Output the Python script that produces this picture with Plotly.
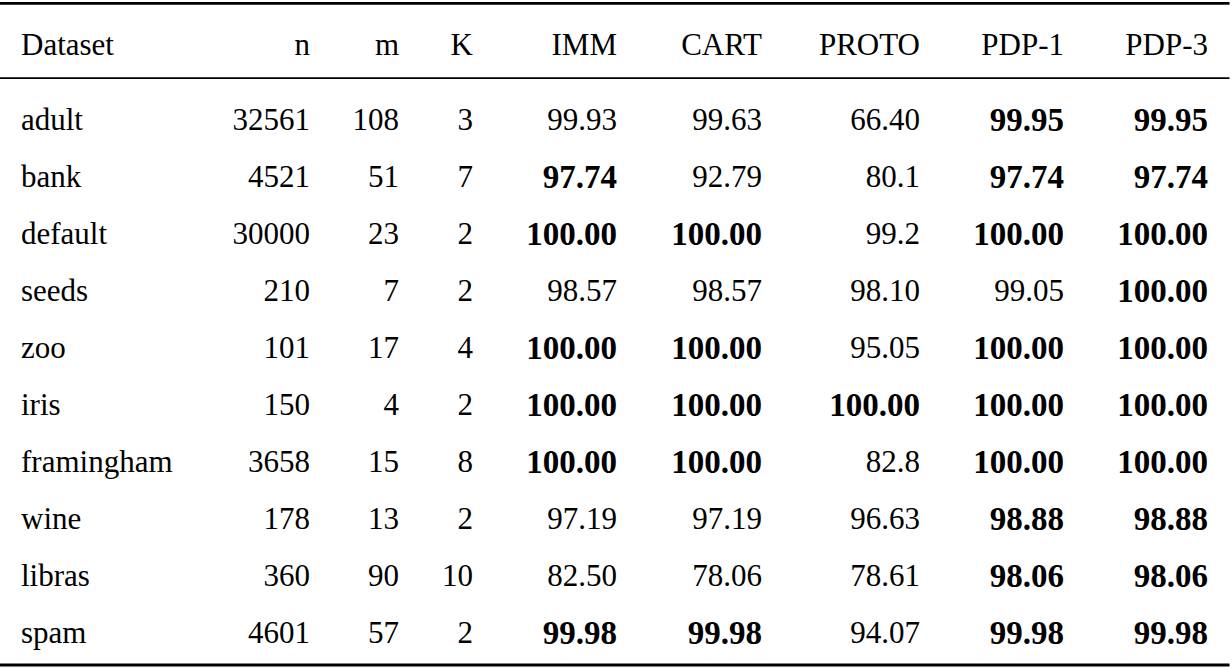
import plotly.graph_objects as go

# ---------------- data ----------------
datasets = ["adult", "bank", "default", "seeds", "zoo", "iris",
            "framingham", "wine", "libras", "spam"]
n_vals = ["32561", "4521", "30000", "210", "101", "150", "3658", "178", "360", "4601"]
m_vals = ["108", "51", "23", "7", "17", "4", "15", "13", "90", "57"]
k_vals = ["3", "7", "2", "2", "4", "2", "8", "2", "10", "2"]
imm = ["99.93", "97.74", "100.00", "98.57", "100.00", "100.00", "100.00", "97.19", "82.50", "99.98"]
cart = ["99.63", "92.79", "100.00", "98.57", "100.00", "100.00", "100.00", "97.19", "78.06", "99.98"]
proto = ["66.40", "80.1", "99.2", "98.10", "95.05", "100.00", "82.8", "96.63", "78.61", "94.07"]
pdp1 = ["99.95", "97.74", "100.00", "99.05", "100.00", "100.00", "100.00", "98.88", "98.06", "99.98"]
pdp3 = ["99.95", "97.74", "100.00", "100.00", "100.00", "100.00", "100.00", "98.88", "98.06", "99.98"]
headers = ["Dataset", "n", "m", "K", "IMM", "CART", "PROTO", "PDP-1", "PDP-3"]

# ---------------- layout constants ----------------
W, H = 1232, 669
FONT = "Liberation Serif"
FS = 31
FS_BOLD = 33
left_x = 21                      # left edge of Dataset column
right_x = [310, 399, 473, 617, 762, 920, 1064, 1208]  # right edges of other columns
header_y = 47
row0_y = 122.3
row_step = 57.0
rules = [(3.4, 2.8), (78.2, 1.7), (665, 2.8)]  # (y, width)

score_cols = [imm, cart, proto, pdp1, pdp3]
rows_y = [row0_y + i * row_step for i in range(len(datasets))]

fig = go.Figure()

def text_trace(xs, ys, texts, pos, sizes=FS):
    return go.Scatter(x=xs, y=ys, mode="text", text=texts, textposition=pos,
                      textfont=dict(family=FONT, size=sizes, color="black"),
                      hoverinfo="skip", showlegend=False, cliponaxis=False)

# header
fig.add_trace(text_trace([left_x], [header_y], [headers[0]], "middle right"))
fig.add_trace(text_trace(right_x, [header_y] * len(right_x), headers[1:], "middle left"))

# dataset names
fig.add_trace(text_trace([left_x] * len(datasets), rows_y, datasets, "middle right"))

# integer columns
for col, xr in zip([n_vals, m_vals, k_vals], right_x[:3]):
    fig.add_trace(text_trace([xr] * len(col), rows_y, col, "middle left"))

# score columns: best per row in bold
row_best = [max(float(c[i]) for c in score_cols) for i in range(len(datasets))]
for col, xr in zip(score_cols, right_x[3:]):
    is_best = [float(v) == row_best[i] for i, v in enumerate(col)]
    txt = [f"<b>{v}</b>" if b else v for v, b in zip(col, is_best)]
    sizes = [FS_BOLD if b else FS for b in is_best]
    fig.add_trace(text_trace([xr] * len(col), rows_y, txt, "middle left", sizes))

for y, lw in rules:
    fig.add_shape(type="line", xref="paper", x0=0, x1=0.998, yref="y", y0=y, y1=y,
                  line=dict(color="black", width=lw))

fig.update_layout(
    width=W, height=H,
    margin=dict(l=0, r=0, t=0, b=0),
    paper_bgcolor="white", plot_bgcolor="white",
    xaxis=dict(range=[0, W], visible=False, fixedrange=True),
    yaxis=dict(range=[H, 0], visible=False, fixedrange=True),
    showlegend=False,
)

fig.write_html("out.html", config={"displayModeBar": False},
               post_script="document.body.style.margin='0';document.body.style.overflow='hidden';")
